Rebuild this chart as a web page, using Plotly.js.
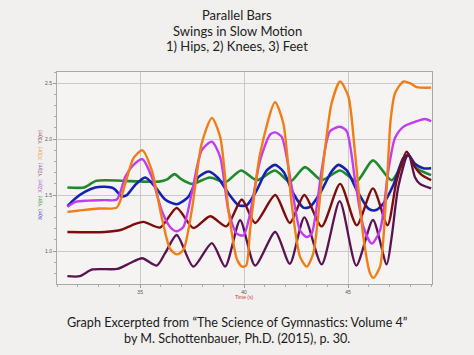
<!DOCTYPE html>
<html>
<head>
<meta charset="utf-8">
<script src="https://cdn.plot.ly/plotly-3.0.1.min.js"></script>
<style>html,body{margin:0;padding:0;background:#f1f0ee;}#chart{width:474px;height:355px;}</style>
</head>
<body>
<div id="chart"></div>
<script>
// Time (s) and position (m) readings, one pair of arrays per curve
const blueT = [31.5, 31.88, 32.36, 32.84, 33.3, 33.72, 34.12, 34.36, 34.76, 35.24, 35.72, 36.2, 36.76, 37.32, 37.8, 38.29, 38.77, 39.25, 39.73, 40.13, 40.61, 41.09, 41.49, 41.89, 42.37, 42.85, 43.17, 43.65, 44.21, 44.54, 44.94, 45.42, 45.98, 46.3, 46.7, 47.18, 47.66, 47.9, 48.22, 48.62, 49.0];
const blueV = [1.40, 1.47, 1.53, 1.568, 1.574, 1.56, 1.49, 1.50, 1.59, 1.657, 1.574, 1.46, 1.418, 1.484, 1.66, 1.71, 1.648, 1.514, 1.409, 1.41, 1.544, 1.72, 1.77, 1.71, 1.514, 1.388, 1.394, 1.514, 1.71, 1.77, 1.72, 1.544, 1.379, 1.364, 1.424, 1.59, 1.83, 1.857, 1.78, 1.74, 1.74];

const greenT = [31.5, 32.3, 32.9, 34.5, 35.9, 36.3, 36.65, 37.0, 37.5, 38.35, 39.1, 39.85, 40.61, 41.49, 42.21, 42.93, 43.73, 44.62, 45.42, 46.2, 47.1, 47.9, 48.3, 49.0];
const greenV = [1.568, 1.568, 1.627, 1.625, 1.62, 1.64, 1.687, 1.64, 1.60, 1.657, 1.615, 1.72, 1.633, 1.72, 1.618, 1.75, 1.633, 1.72, 1.624, 1.81, 1.633, 1.857, 1.74, 1.678];

const magentaT = [31.5, 31.9, 32.5, 33.3, 33.88, 34.28, 34.68, 35.11, 35.56, 36.04, 36.44, 36.76, 37.08, 37.48, 37.96, 38.45, 38.85, 39.25, 39.65, 39.97, 40.29, 40.77, 41.25, 41.49, 41.81, 42.29, 42.69, 43.01, 43.25, 43.73, 44.13, 44.62, 44.94, 45.34, 45.74, 46.14, 46.54, 46.94, 47.26, 47.66, 48.3, 48.7, 49.0];
const magentaV = [1.395, 1.44, 1.45, 1.455, 1.46, 1.66, 1.77, 1.82, 1.66, 1.36, 1.215, 1.176, 1.215, 1.514, 1.90, 1.977, 1.84, 1.36, 1.155, 1.14, 1.335, 1.81, 2.04, 2.06, 2.02, 1.574, 1.185, 1.125, 1.155, 1.72, 2.07, 2.11, 2.07, 1.633, 1.215, 1.066, 1.185, 1.72, 2.01, 2.11, 2.16, 2.18, 2.16];

const orangeT = [31.5, 32.0, 33.0, 33.88, 34.28, 34.68, 35.11, 35.56, 36.04, 36.44, 36.76, 37.08, 37.48, 37.96, 38.45, 38.85, 39.25, 39.65, 39.9, 40.1, 40.29, 40.77, 41.49, 41.89, 42.29, 42.69, 43.01, 43.33, 43.81, 44.21, 44.62, 45.02, 45.34, 45.74, 46.06, 46.22, 46.54, 46.86, 47.05, 47.26, 47.66, 47.98, 48.3, 49.0];
const orangeV = [1.35, 1.36, 1.38, 1.39, 1.60, 1.83, 1.90, 1.72, 1.30, 1.02, 0.97, 1.01, 1.36, 1.96, 2.19, 2.02, 1.36, 0.93, 0.86, 0.87, 1.19, 1.87, 2.33, 2.14, 1.42, 0.95, 0.86, 0.98, 1.78, 2.32, 2.515, 2.38, 1.87, 1.125, 0.80, 0.76, 0.86, 1.57, 2.17, 2.41, 2.515, 2.5, 2.465, 2.46];

const maroonT = [31.5, 33.3, 34.1, 34.6, 35.16, 35.96, 36.76, 37.56, 38.37, 39.15, 39.89, 40.53, 41.5, 42.2, 42.9, 43.73, 44.62, 45.42, 46.2, 46.9, 47.34, 47.82, 48.22, 48.54, 49.0];
const maroonV = [1.17, 1.17, 1.19, 1.23, 1.26, 1.21, 1.385, 1.205, 1.31, 1.22, 1.46, 1.25, 1.50, 1.25, 1.50, 1.22, 1.60, 1.23, 1.56, 1.23, 1.63, 1.887, 1.75, 1.68, 1.633];

const purpleT = [31.5, 32.1, 32.7, 33.9, 34.5, 35.1, 35.8, 36.2, 36.76, 37.56, 38.45, 39.09, 39.81, 40.53, 41.5, 42.2, 42.9, 43.73, 44.6, 45.4, 46.2, 46.86, 47.1, 47.42, 47.9, 48.22, 48.46, 49.0];
const purpleV = [0.775, 0.775, 0.835, 0.84, 0.89, 0.935, 0.87, 0.98, 1.143, 0.86, 1.07, 0.86, 1.275, 0.87, 1.17, 0.885, 1.30, 0.88, 1.445, 0.87, 1.277, 0.88, 1.125, 1.574, 1.87, 1.66, 1.60, 1.56];

const xTickVals = [35, 40, 45];
const yTickVals = [1.0, 1.5, 2.0, 2.5];
const yTickText = ['1.0', '1.5', '2.0', '2.5'];
const titleLines = ['Parallel Bars', 'Swings in Slow Motion', '1) Hips, 2) Knees, 3) Feet'];
const captionLines = ['Graph Excerpted from \u201cThe Science of Gymnastics: Volume 4\u201d', 'by M. Schottenbauer, Ph.D. (2015), p. 30.'];
const yLabelParts = [['X(m)', '#3848c8'], ['Y(m)', '#2e9a3a'], ['X2(m)', '#b060e0'], ['Y2(m)', '#8a5a9a'], ['X3(m)', '#f0a050'], ['Y3(m)', '#8a4a70']];

function tr(t, v, color, w) {
  return {x: t, y: v, type: 'scatter', mode: 'lines',
    line: {color: color, width: w, shape: 'spline', smoothing: 0.7},
    hoverinfo: 'skip', showlegend: false};
}

const data = [
  tr(greenT, greenV, '#1f8a2c', 2.6),
  tr(blueT, blueV, '#1522b0', 2.6),
  tr(maroonT, maroonV, '#7d0c0c', 2.4),
  tr(purpleT, purpleV, '#5a1352', 2.3),
  tr(magentaT, magentaV, '#c43cf0', 2.4),
  tr(orangeT, orangeV, '#f07d16', 2.4)
];

const W = 375, H = 212;
const annotations = [];
const titleY = [15, 31, 46];
titleLines.forEach((s, i) => annotations.push({text: s, xref: 'paper', yref: 'paper',
  x: (237 - 57) / W, y: (284 - titleY[i]) / H, xanchor: 'center', yanchor: 'middle', showarrow: false,
  font: {family: 'Lato, Open Sans, sans-serif', size: 13, color: '#222'}}));
const capY = [322, 338];
captionLines.forEach((s, i) => annotations.push({text: s, xref: 'paper', yref: 'paper',
  x: (237 - 57) / W, y: (284 - capY[i]) / H, xanchor: 'center', yanchor: 'middle', showarrow: false,
  font: {family: 'Lato, Open Sans, sans-serif', size: 12.6, color: '#1a1a1a'}}));
annotations.push({text: 'Time (s)', xref: 'paper', yref: 'paper', x: (244 - 57) / W, y: (284 - 297) / H,
  xanchor: 'center', yanchor: 'middle', showarrow: false, font: {family: 'Liberation Sans', size: 5, color: '#d03040'}});
annotations.push({text: yLabelParts.map(p => '<span style="color:' + p[1] + '">' + p[0] + '</span>').join('  '),
  xref: 'paper', yref: 'paper', x: (40 - 57) / W, y: (284 - 175) / H, textangle: -90,
  xanchor: 'center', yanchor: 'middle', showarrow: false, font: {family: 'Liberation Sans', size: 5, color: '#666'}});

const layout = {
  width: 474, height: 355,
  margin: {l: 57, r: 42, t: 72, b: 71},
  paper_bgcolor: '#f1f0ee', plot_bgcolor: '#f5f4f2',
  xaxis: {range: [31.0, 49.04], tickvals: xTickVals, ticktext: xTickVals.map(String),
    showgrid: true, gridcolor: '#c9c9c9', gridwidth: 1, zeroline: false,
    showline: true, linecolor: '#a8a8a8', linewidth: 1, mirror: true,
    ticks: 'outside', ticklen: 3, tickcolor: '#999',
    minor: {dtick: 1, tick0: 0, ticks: 'outside', ticklen: 2, tickcolor: '#aaa', showgrid: false},
    tickfont: {family: 'Liberation Sans', size: 5, color: '#555'}},
  yaxis: {range: [0.705, 2.6], tickvals: yTickVals, ticktext: yTickText,
    showgrid: true, gridcolor: '#c9c9c9', gridwidth: 1, zeroline: false,
    showline: true, linecolor: '#a8a8a8', linewidth: 1, mirror: true,
    ticks: 'outside', ticklen: 3, tickcolor: '#999',
    minor: {dtick: 0.1, tick0: 0, ticks: 'outside', ticklen: 2, tickcolor: '#aaa', showgrid: false},
    tickfont: {family: 'Liberation Sans', size: 5, color: '#555'}},
  annotations: annotations
};

Plotly.newPlot('chart', data, layout, {displayModeBar: false, staticPlot: true});
</script>
</body>
</html>
